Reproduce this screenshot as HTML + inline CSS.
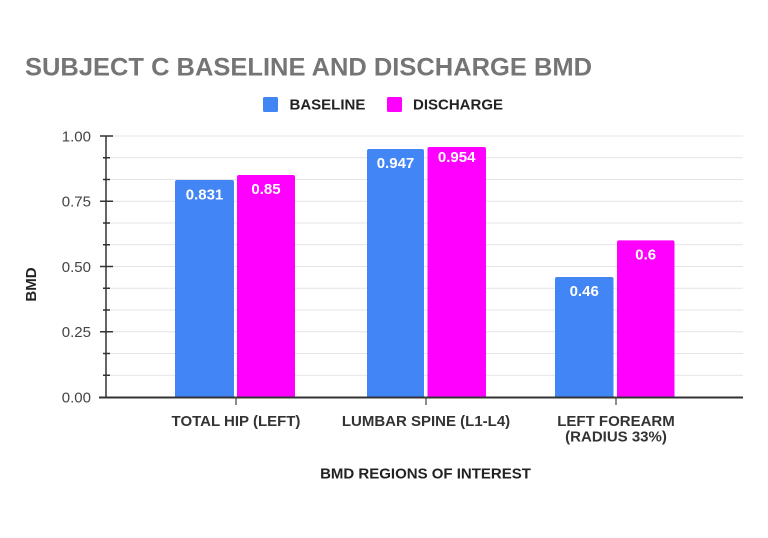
<!DOCTYPE html>
<html>
<head>
<meta charset="utf-8">
<style>
  html, body { margin: 0; padding: 0; background: #ffffff; }
  svg { display: block; }
  text { font-family: "Liberation Sans", Arial, sans-serif; }
</style>
</head>
<body>
<svg width="768" height="538" viewBox="0 0 768 538" xmlns="http://www.w3.org/2000/svg">
  <rect x="0" y="0" width="768" height="538" fill="#ffffff"/>

  <!-- Title -->
  <text x="25" y="75.5" font-size="25" font-weight="bold" fill="#757575" textLength="567" lengthAdjust="spacingAndGlyphs">SUBJECT C BASELINE AND DISCHARGE BMD</text>

  <!-- Legend -->
  <rect x="263" y="97" width="15" height="15" rx="1.5" fill="#4285F4"/>
  <text x="289.5" y="109.6" font-size="15" font-weight="bold" fill="#222222">BASELINE</text>
  <rect x="387" y="97" width="15" height="15" rx="1.5" fill="#FF00FF"/>
  <text x="413" y="109.6" font-size="15" font-weight="bold" fill="#222222">DISCHARGE</text>

  <!-- Gridlines -->
  <g stroke="#e4e4e4" stroke-width="1">
    <line x1="106" y1="375.25" x2="743" y2="375.25"/>
    <line x1="106" y1="353.5" x2="743" y2="353.5"/>
    <line x1="106" y1="331.75" x2="743" y2="331.75"/>
    <line x1="106" y1="310" x2="743" y2="310"/>
    <line x1="106" y1="288.25" x2="743" y2="288.25"/>
    <line x1="106" y1="266.5" x2="743" y2="266.5"/>
    <line x1="106" y1="244.75" x2="743" y2="244.75"/>
    <line x1="106" y1="223" x2="743" y2="223"/>
    <line x1="106" y1="201.25" x2="743" y2="201.25"/>
    <line x1="106" y1="179.5" x2="743" y2="179.5"/>
    <line x1="106" y1="157.75" x2="743" y2="157.75"/>
    <line x1="106" y1="136" x2="743" y2="136"/>
  </g>

  <!-- Bars -->
  <!-- Total hip -->
  <path d="M175,397 V182 Q175,180 177,180 H232 Q234,180 234,182 V397 Z" fill="#4285F4"/>
  <path d="M237,397 V177 Q237,175 239,175 H293 Q295,175 295,177 V397 Z" fill="#FF00FF"/>
  <!-- Lumbar spine -->
  <path d="M367,397 V151 Q367,149 369,149 H422 Q424,149 424,151 V397 Z" fill="#4285F4"/>
  <path d="M427.5,397 V149 Q427.5,147 429.5,147 H484 Q486,147 486,149 V397 Z" fill="#FF00FF"/>
  <!-- Left forearm -->
  <path d="M555,397 V279 Q555,277 557,277 H611.5 Q613.5,277 613.5,279 V397 Z" fill="#4285F4"/>
  <path d="M617,397 V242.4 Q617,240.4 619,240.4 H672.5 Q674.5,240.4 674.5,242.4 V397 Z" fill="#FF00FF"/>

  <!-- Bar labels -->
  <g font-size="15" font-weight="bold" fill="#ffffff" text-anchor="middle">
    <text x="204.5" y="199.4">0.831</text>
    <text x="266" y="193.8">0.85</text>
    <text x="395.5" y="167.8">0.947</text>
    <text x="456.7" y="162">0.954</text>
    <text x="584.2" y="296">0.46</text>
    <text x="645.7" y="259.5">0.6</text>
  </g>

  <!-- Y axis -->
  <line x1="106" y1="136" x2="106" y2="397" stroke="#333333" stroke-width="1.5"/>
  <g stroke="#333333" stroke-width="1.5">
    <line x1="100" y1="136" x2="113" y2="136"/>
    <line x1="100" y1="201.25" x2="113" y2="201.25"/>
    <line x1="100" y1="266.5" x2="113" y2="266.5"/>
    <line x1="100" y1="331.75" x2="113" y2="331.75"/>
    <line x1="103" y1="157.75" x2="110" y2="157.75"/>
    <line x1="103" y1="179.5" x2="110" y2="179.5"/>
    <line x1="103" y1="223" x2="110" y2="223"/>
    <line x1="103" y1="244.75" x2="110" y2="244.75"/>
    <line x1="103" y1="288.25" x2="110" y2="288.25"/>
    <line x1="103" y1="310" x2="110" y2="310"/>
    <line x1="103" y1="353.5" x2="110" y2="353.5"/>
    <line x1="103" y1="375.25" x2="110" y2="375.25"/>
  </g>

  <!-- X axis -->
  <line x1="99" y1="397.5" x2="743" y2="397.5" stroke="#333333" stroke-width="2"/>
  <g stroke="#444444" stroke-width="1.2">
    <line x1="236" y1="397" x2="236" y2="405"/>
    <line x1="426" y1="397" x2="426" y2="405"/>
    <line x1="616" y1="397" x2="616" y2="405"/>
  </g>

  <!-- Y tick labels -->
  <g font-size="15" fill="#444444" text-anchor="end">
    <text x="91" y="141.4">1.00</text>
    <text x="91" y="206.6">0.75</text>
    <text x="91" y="271.9">0.50</text>
    <text x="91" y="337.1">0.25</text>
    <text x="91" y="402.4">0.00</text>
  </g>

  <!-- Y axis title -->
  <text x="0" y="0" font-size="15" font-weight="bold" fill="#222222" text-anchor="middle" transform="translate(36,284.5) rotate(-90)">BMD</text>

  <!-- X category labels -->
  <g font-size="15" font-weight="bold" fill="#333333" text-anchor="middle">
    <text x="236" y="425.9">TOTAL HIP (LEFT)</text>
    <text x="426" y="425.9">LUMBAR SPINE (L1-L4)</text>
    <text x="616" y="425.9">LEFT FOREARM</text>
    <text x="616" y="441.7">(RADIUS 33%)</text>
  </g>

  <!-- X axis title -->
  <text x="425.5" y="478.4" font-size="15" font-weight="bold" fill="#222222" text-anchor="middle">BMD REGIONS OF INTEREST</text>
</svg>
</body>
</html>
